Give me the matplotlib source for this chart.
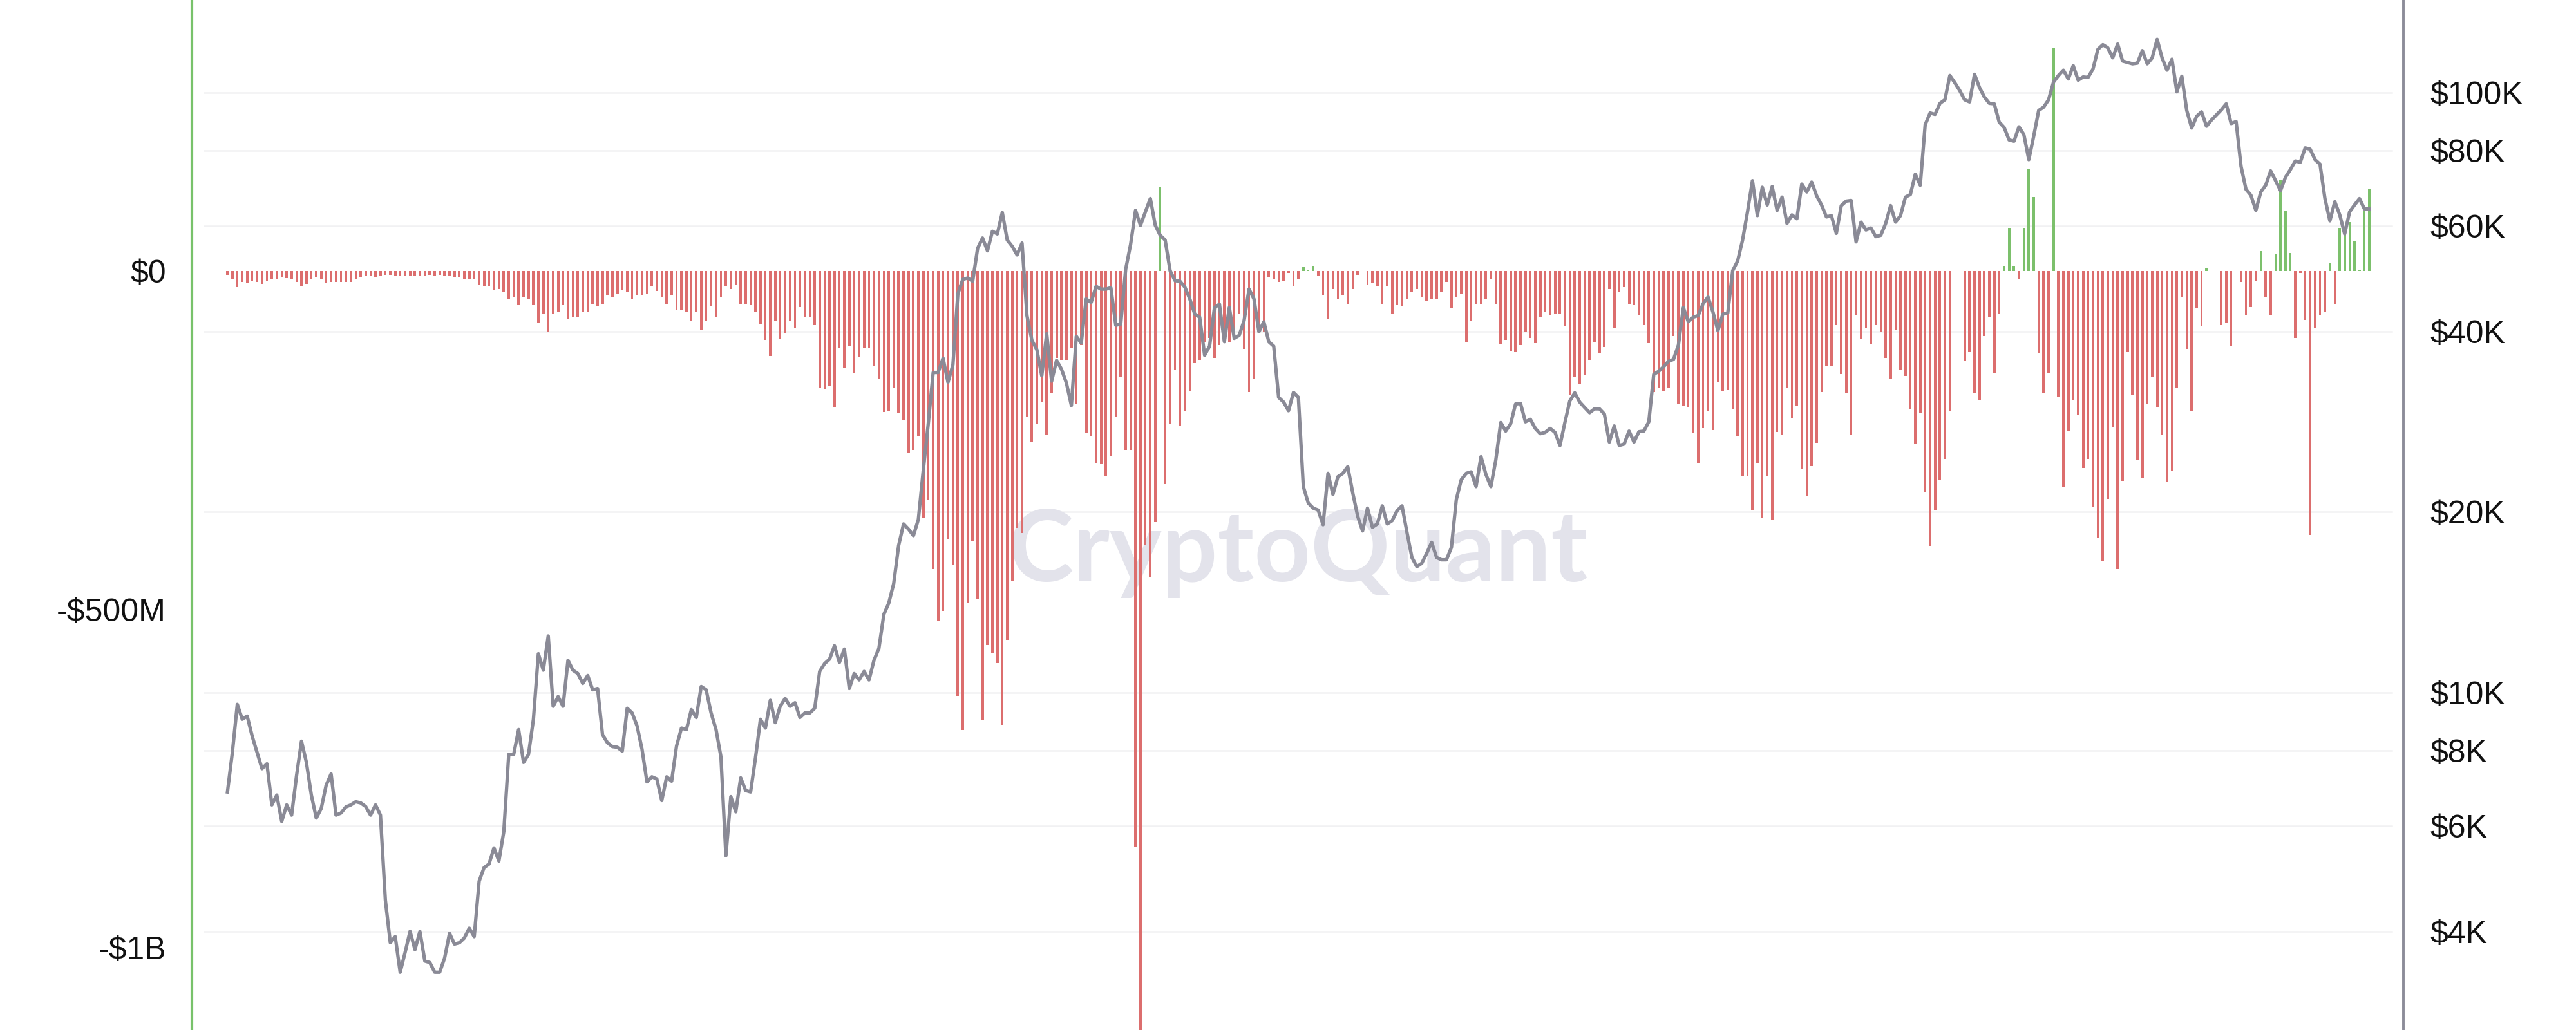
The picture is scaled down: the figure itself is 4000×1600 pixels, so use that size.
import numpy as np
import matplotlib.pyplot as plt
from matplotlib.ticker import NullLocator
from matplotlib.transforms import blended_transform_factory

# weekly netflow, millions of USD (negative = outflow)
flow_musd = [
    -5, -12, -24, -16, -18, -15, -16, -19, -15, -11,
    -11, -9, -10, -12, -16, -22, -19, -12, -9, -12,
    -18, -16, -16, -16, -16, -16, -12, -9, -7, -7,
    -9, -7, -5, -5, -7, -7, -7, -7, -7, -7,
    -6, -5, -6, -5, -7, -7, -9, -9, -11, -12,
    -12, -20, -22, -22, -28, -26, -31, -41, -39, -50,
    -39, -41, -50, -77, -63, -89, -63, -61, -50, -70,
    -68, -68,
    -60, -60, -48, -51, -48, -36, -38, -34, -28, -31,
    -41, -36, -36, -34, -23, -29, -38, -48, -36, -57,
    -57, -60, -73, -60, -86, -73, -52, -67, -38, -23,
    -26, -21, -49, -48, -50, -60, -78, -102, -125, -73,
    -100, -92, -73, -84, -53, -67, -67, -80, -172, -174,
    -170, -201, -113, -143, -111, -150, -126, -113, -113, -140,
    -160, -208, -206, -172, -210, -220, -269, -264, -243, -364,
    -339, -440, -518,
    -502, -397, -434, -628, -678, -490, -400, -485, -664, -553,
    -565, -579, -671, -545, -458, -380, -387, -215, -252, -225,
    -193, -242, -181, -128, -131, -131, -113, -196, -109, -240,
    -244, -283, -285, -303, -274, -215, -157, -264, -264, -851,
    -1200, -404, -453, -371, 124, -315, -225, -145, -228, -206,
    -178, -136, -131, -104, -99, -128, -109, -104, -104, -102,
    -63, -115, -179, -160, -89, -89, -9, -12, -16, -15,
    -3, -22, -12,
    6, 2, 8, -7, -36, -70, -26, -41, -36, -48,
    -26, -5, 0, -21, -18, -23, -49, -23, -63, -50,
    -52, -41, -31, -26, -39, -44, -41, -41, -31, -16,
    -55, -38, -34, -104, -73, -48, -48, -41, -12, -49,
    -107, -102, -118, -120, -109, -89, -99, -106, -68, -60,
    -65, -63, -63, -81, -183, -157, -167, -154, -131, -104,
    -121, -112, -26, -84, -31, -24, -48, -50, -65, -80,
    -106, -179, -172, -177,
    -172, -96, -196, -199, -201, -240, -283, -232, -206, -235,
    -164, -178, -176, -203, -244, -303, -303, -354, -283, -364,
    -303, -368, -238, -242, -172, -218, -199, -293, -332, -288,
    -254, -179, -140, -140, -80, -152, -181, -242, -65, -101,
    -84, -107, -80, -89, -128, -160, -87, -145, -155, -203,
    -256, -210, -327, -406, -354, -309, -278, -206, 0, 0,
    -133, -120, -181, -191, -96, -67, -150, -63, 8, 64,
    8, -12,
    64, 152, 110, -121, -181, -150, 330, -186, -319, -237,
    -191, -212, -291, -278, -349, -395, -429, -337, -230, -440,
    -310, -120, -183, -280, -306, -196, -157, -201, -242, -312,
    -295, -172, -39, -115, -206, -55, -81, 5, 0, 0,
    -80, -77, -111, 0, -16, -65, -53, -15, 30, -38,
    -65, 25, 134, 90, 27, -99, -3, -72, -390, -84,
    -65, -60, 13, -48, 64, 64, 73, 45, 2, 90,
    121,
]

# BTC price, USD
price_usd = [
    6830, 7950, 9560, 9030, 9140, 8470, 7950, 7470, 7610, 6500,
    6750, 6100, 6500, 6250, 7270, 8300, 7650, 6750, 6180, 6410,
    7010, 7320, 6250, 6300, 6450, 6500, 6580, 6550, 6460, 6250,
    6500, 6250, 4510, 3830, 3920, 3420, 3690, 4000, 3730, 4000,
    3570, 3550, 3420, 3420, 3610, 3970, 3810, 3830, 3900, 4050,
    3920, 4850, 5110, 5180, 5510, 5240, 5870, 7890, 7890, 8680,
    7650, 7890, 9030, 11610, 10900, 12430, 9490, 9850, 9490, 11320,
    10900, 10760,
    10360, 10680, 10110, 10160, 8510, 8250, 8130, 8110, 7990, 9420,
    9250, 8800, 8050, 7100, 7240, 7180, 6610, 7240, 7120, 8150,
    8730, 8680, 9370, 9090, 10240, 10110, 9250, 8680, 7810, 5350,
    6710, 6330, 7210, 6870, 6830, 7790, 9030, 8730, 9710, 8910,
    9490, 9780, 9490, 9620, 9090, 9250, 9250, 9420, 10850, 11180,
    11370, 11970, 11230, 11820, 10160, 10760, 10500, 10850, 10500, 11320,
    11850, 13500, 14100, 15200, 17590, 19110, 18730, 18270, 19450, 23520,
    28060, 34170, 34170,
    36100, 32900, 35200, 46200, 48850, 49100, 48500, 55000, 57250, 54500,
    58750, 58150, 63150, 56800, 55450, 53650, 56150, 42500, 38650, 37300,
    33750, 39650, 33050, 35800, 34600, 32800, 30100, 39250, 38250, 45300,
    44700, 47550, 47050, 47050, 47300, 40950, 41150, 50750, 55850, 63650,
    60100, 63300, 66600, 60100, 57850, 56800, 50500, 48600, 48500, 47400,
    45300, 42750, 42250, 36500, 37800, 43850, 44400, 38450, 43850, 38950,
    39400, 41700, 47050, 45300, 39950, 41500, 38450, 37800, 31050, 30500,
    29500, 31650, 31050,
    22050, 20700, 20300, 20150, 19050, 23200, 21400, 22900, 23200, 23800,
    21550, 19700, 18600, 20300, 18870, 19110, 20480, 19110, 19350, 20100,
    20480, 18500, 16800, 16220, 16430, 17070, 17810, 16800, 16650, 16650,
    17460, 20990, 22640, 23200, 23330, 22050, 24730, 23100, 22050, 24420,
    28200, 27290, 28060, 30270, 30350, 28270, 28550, 27570, 27010, 27150,
    27570, 27150, 25820, 28200, 30640, 31600, 30500, 29870, 29280, 29720,
    29720, 29130, 26160, 27830, 25820, 25960, 27290, 26160, 27220, 27290,
    28270, 33920, 34320, 34940,
    35670, 35930, 37960, 43830, 41500, 42250, 42500, 44490, 45660, 43080,
    40120, 42750, 42950, 50500, 52420, 56800, 63300, 71340, 62380, 69550,
    64980, 69730, 63650, 66970, 60540, 62560, 61630, 70400, 68310, 70950,
    67340, 64980, 62070, 62380, 58280, 64820, 65950, 66120, 56400, 60850,
    59040, 59490, 57550, 57850, 60540, 64820, 60850, 62380, 66970, 67640,
    73130, 70100, 88400, 92500, 92000, 96000, 97300, 106800, 103900, 100800,
    97300, 96500, 107300, 102000, 98300, 96000, 95800, 89300, 87500, 83400,
    83000, 87700,
    85100, 77320, 84700, 93400, 94600, 97300, 104100, 106800, 109000, 105400,
    110900, 104900, 106200, 106000, 109500, 118100, 120200, 118800, 114300, 120500,
    112900, 112300, 111700, 112000, 117500, 111700, 114300, 122700, 114300, 109000,
    113700, 100300, 106500, 93400, 87300, 91300, 92900, 87900, 90000, 91800,
    93600, 95800, 88800, 89500, 75380, 69010, 67450, 63650, 68310, 70100,
    74060, 71340, 68670, 72270, 74430, 76930, 76550, 80900, 80500, 77320,
    76000, 66600, 61150, 65800, 62560, 58150, 63300, 64980, 66600, 64000,
    64000,
]

flow_ticks = [0, -500, -1000]
flow_labels = ['$0', '-$500M', '-$1B']
price_ticks = [4000, 6000, 8000, 10000, 20000, 40000, 60000, 80000, 100000]
price_labels = ['$4K', '$6K', '$8K', '$10K', '$20K', '$40K', '$60K', '$80K', '$100K']

RED = '#dc6e6e'
GREEN = '#7cc06c'
LINE = '#8a8a96'

plt.rcParams['font.family'] = ['Liberation Sans', 'DejaVu Sans']

fig = plt.figure(figsize=(20, 8), dpi=200)
ax = fig.add_axes([0.0745, 0.0, 0.8585, 1.0])
ax2 = ax.twinx()

x = np.arange(len(flow_musd))
flow = np.array(flow_musd)
cols = np.where(flow >= 0, GREEN, RED)
ax.bar(x, flow, width=0.5, color=cols, zorder=2)

ax2.plot(x, price_usd, color=LINE, lw=1.9, zorder=3)
ax2.set_yscale('log')
ax2.set_ylim(2740, 142700)
ax.set_ylim(-1122, 401)
ax.set_xlim(-7.2, len(x) - 1 + 6.9)
ax.autoscale(False)

# grid from the price axis, but drawn under the bars
trans = blended_transform_factory(ax.transAxes, ax2.transData)
for v in price_ticks:
    ax.plot([0.0055, 0.9948], [v, v], transform=trans, color='#f1f1f3', lw=0.9, zorder=0)

ax.text(0.5, 1 - 903 / 1600, 'CryptoQuant', transform=ax.transAxes, ha='center',
        va='baseline', fontsize=55, fontweight='bold', family=['Lato', 'DejaVu Sans'],
        color='#e3e3eb', zorder=1)

ax.set_xticks([])
ax.set_yticks(flow_ticks, flow_labels)
ax.tick_params(axis='y', length=0, pad=14.4, labelsize=18, labelcolor='#111111')
ax2.set_yticks(price_ticks, price_labels)
ax2.yaxis.set_minor_locator(NullLocator())
ax2.tick_params(axis='y', which='both', length=0, pad=14.8, labelsize=18, labelcolor='#111111')

for s in ['top', 'bottom', 'right']:
    ax.spines[s].set_visible(False)
ax.spines['left'].set_color('#78c26a')
ax.spines['left'].set_linewidth(1.5)
for s in ['top', 'bottom', 'left']:
    ax2.spines[s].set_visible(False)
ax2.spines['right'].set_color('#8c8c99')
ax2.spines['right'].set_linewidth(1.4)

fig.savefig('out.png', dpi=200, facecolor='white')
